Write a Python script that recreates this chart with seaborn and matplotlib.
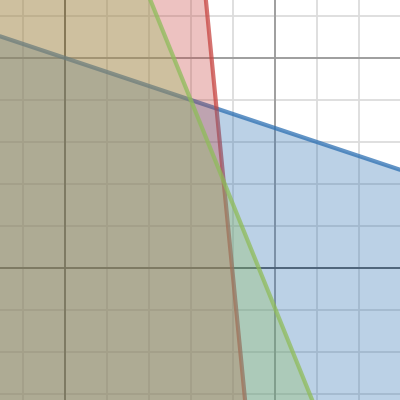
import numpy as np
import pandas as pd
import matplotlib
matplotlib.use("Agg")
import matplotlib.pyplot as plt
import seaborn as sns

sns.set_theme(style="white")

# boundary lines: y = intercept + slope * x, region below each is shaded
names = ["blue", "red", "green"]
slopes = [-1 / 3, -10.2, -2.47]
intercepts = [5.0, 40.6, 11.4]
colors = ["#2d70b3", "#c74440", "#8fbc5a"]
line_z = [1, 1, 3]

x_min, x_max = -1.55, 7.98
y_min, y_max = -3.14, 6.38

fig = plt.figure(figsize=(4, 4), dpi=100)
ax = fig.add_axes([0, 0, 1, 1])
ax.set_xlim(x_min, x_max)
ax.set_ylim(y_min, y_max)

for v in range(-1, 8):
    ax.axvline(v, color="#dcdcdc", lw=1.3, zorder=0)
for v in range(-3, 7):
    ax.axhline(v, color="#dcdcdc", lw=1.3, zorder=0)
ax.axvline(5, color="#9a9a9a", lw=1.3, zorder=0)
ax.axhline(5, color="#9a9a9a", lw=1.3, zorder=0)
ax.axvline(0, color="#555555", lw=1.3, zorder=0)
ax.axhline(0, color="#555555", lw=1.3, zorder=0)

xs = np.linspace(x_min, x_max, 2000)
for name, m, b, c, z in zip(names, slopes, intercepts, colors, line_z):
    df = pd.DataFrame({"x": xs, "y": b + m * xs})
    ax.fill_between(df["x"], y_min - 1, df["y"], color=c, alpha=0.32, lw=0, zorder=2)
    sns.lineplot(data=df, x="x", y="y", color=c, lw=3, alpha=0.75, ax=ax, zorder=z)

ax.set_xlim(x_min, x_max)
ax.set_ylim(y_min, y_max)
ax.set_xticks([])
ax.set_yticks([])
ax.set_xlabel("")
ax.set_ylabel("")
for s in ax.spines.values():
    s.set_visible(False)

fig.savefig("out.png", dpi=100)
